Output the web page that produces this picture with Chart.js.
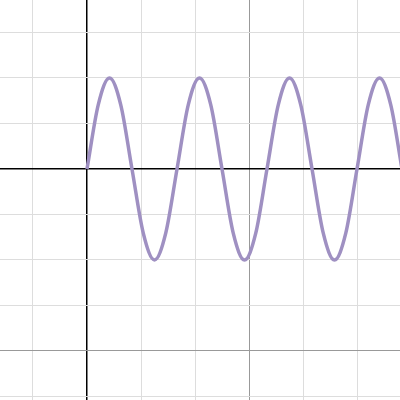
<!DOCTYPE html><html><head><script src="https://cdn.jsdelivr.net/npm/chart.js@4"></script>
<style>body{margin:0;background:#fff}</style></head><body><canvas id="c" width="400" height="400"></canvas><script>
const xValues=[0,0.208,0.417,0.625,0.833,1.042,1.25,1.458,1.667,1.875,2.083,2.292,2.5,2.708,2.917,3.125,3.333,3.542,3.75,3.958,4.167,4.375,4.583,4.792,5,5.208,5.417,5.625,5.833];
const yValues=[0,1.41,2,1.41,0,-1.41,-2,-1.41,0,1.41,2,1.41,0,-1.41,-2,-1.41,0,1.41,2,1.41,0,-1.41,-2,-1.41,0,1.41,2,1.41,0];
const xTicks=[-1,0,1,2,3,4,5];
const yTicks=[3,2,1,0,-1,-2,-3,-4,-5];
const pts=xValues.map((x,i)=>({x,y:yValues[i]}));
function gc(v,major){return v===0?'#000':(v===major?'#999':'#ddd');}
new Chart(document.getElementById('c'),{type:'scatter',
data:{datasets:[{data:pts,showLine:true,borderColor:'#9f90c2',borderWidth:3.5,pointRadius:0,cubicInterpolationMode:'monotone',tension:0.4}]},
options:{responsive:false,animation:false,layout:{padding:0},plugins:{legend:{display:false},tooltip:{enabled:false}},
scales:{
x:{type:'linear',min:-1.611,max:5.796,afterBuildTicks:a=>{a.ticks=xTicks.map(v=>({value:v}));},
 ticks:{display:false},border:{display:false},grid:{drawTicks:false,lineWidth:c=>c.tick&&c.tick.value===0?1.5:1,color:c=>gc(c.tick?c.tick.value:1,3)}},
y:{type:'linear',min:-5.077,max:3.714,afterBuildTicks:a=>{a.ticks=yTicks.map(v=>({value:v}));},
 ticks:{display:false},border:{display:false},grid:{drawTicks:false,lineWidth:c=>c.tick&&c.tick.value===0?1.5:1,color:c=>gc(c.tick?c.tick.value:1,-4)}}
}}});
</script></body></html>
